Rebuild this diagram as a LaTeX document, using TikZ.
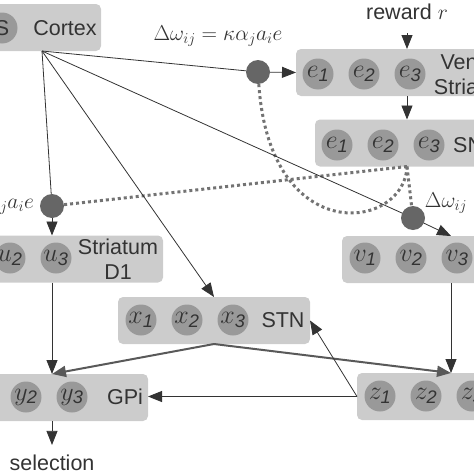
\RequirePackage{fix-cm}
\documentclass[tikz,border=0pt]{standalone}
\usepackage{fontspec}
\setmainfont{Liberation Sans}
\usetikzlibrary{arrows.meta,calc,positioning}
\definecolor{regiongray}{gray}{0.8}
\definecolor{unitgray}{gray}{0.6}
\definecolor{modgray}{gray}{0.4}
\definecolor{inkgray}{gray}{0.2}
\newdimen\hdim
\newdimen\udim
\hdim=47pt
\udim=31pt
\tikzstyle{region}=[
  fill=regiongray,
  inner sep=0pt,
  minimum height=\hdim,
  outer sep=0pt,
  rectangle,
  rounded corners=5pt,
]
\tikzstyle{unit}=[
  circle,
  fill=unitgray,
  font={\fontsize{26}{26}\selectfont},
  inner sep=0pt,
  minimum size=\udim,
  text=inkgray,
]
\tikzstyle{modulator}=[
  circle,
  fill=modgray,
  inner sep=0pt,
  minimum size=24pt,
]
\tikzstyle{caption}=[
  align=center,
  font={\fontsize{21.5}{25}\selectfont},
  inner sep=0pt,
  text=inkgray,
]
\tikzstyle{arrow}=[
  draw=inkgray,
  line width=0.8pt,
]
\tikzstyle{output}=[
  draw=black!65,
  line width=2pt,
]
\tikzstyle{trace}=[
  dash pattern=on 3pt off 3pt,
  draw=black!55,
  line width=3pt,
]
\tikzset{
  x=1pt, y=-1pt,
  node distance=46pt,
  >={Triangle[length=14pt,width=11pt]},
}
\begin{document}
\begin{tikzpicture}
    \useasboundingbox (0,0) rectangle (474,474);
    % regions
    \node (cortex) [region, minimum width=161pt] at (20.5,27.5) {};
    \node (vs) [region, minimum width=244pt] at (418,72.5) {};
    \node (sn) [region, minimum width=245pt] at (437.5,143) {};
    \node (d1) [region, minimum width=223pt] at (51.5,259) {};
    \node (v) [region, minimum width=218pt] at (451,259.5) {};
    \node (stn) [region, minimum width=192pt] at (214,320.5) {};
    \node (gpi) [region, minimum width=208pt] at (44,397.5) {};
    \node (z) [region, minimum width=203pt] at (458.5,396.5) {};
    % units
    \node (s) [unit, font={\fontsize{21.5}{25}\selectfont}] at (2,28) {S};
    \node (e1) [unit] at (318,74) {$e_{\mathit{1}}$};
    \node (e2) [unit, right of=e1] {$e_{\mathit{2}}$};
    \node (e3) [unit, right of=e2] {$e_{\mathit{3}}$};
    \node (sn1) [unit] at (337,145) {$e_{\mathit{1}}$};
    \node (sn2) [unit, right of=sn1] {$e_{\mathit{2}}$};
    \node (sn3) [unit, right of=sn2] {$e_{\mathit{3}}$};
    \node (u3) [unit] at (56,258) {$u_{\mathit{3}}$};
    \node (u2) [unit, left of=u3] {$u_{\mathit{2}}$};
    \node (v1) [unit] at (365,258) {$v_{\mathit{1}}$};
    \node (v2) [unit, right of=v1] {$v_{\mathit{2}}$};
    \node (v3) [unit, right of=v2] {$v_{\mathit{3}}$};
    \node (x1) [unit] at (141,320) {$x_{\mathit{1}}$};
    \node (x2) [unit, right of=x1] {$x_{\mathit{2}}$};
    \node (x3) [unit, right of=x2] {$x_{\mathit{3}}$};
    \node (y3) [unit] at (72,397) {$y_{\mathit{3}}$};
    \node (y2) [unit, left of=y3] {$y_{\mathit{2}}$};
    \node (z1) [unit] at (380,396) {$z_{\mathit{1}}$};
    \node (z2) [unit, right of=z1] {$z_{\mathit{2}}$};
    \node (z3) [unit, right of=z2] {$z_{\mathit{3}}$};
    % labels
    \node (cortexlabel) [caption] at (65,28) {Cortex};
    \node (vslabel) [caption] at (474,74) {Ventral\\Striatum};
    \node (snlabel) [caption, anchor=west] at (453,145) {SN};
    \node (d1label) [caption] at (118,259) {Striatum\\D1};
    \node (stnlabel) [caption] at (283,320) {STN};
    \node (gpilabel) [caption] at (125,397) {GPi};
    \node (reward) [caption] at (407,12) {reward $r$};
    \node (selection) [caption] at (52,463) {selection};
    \node (ruletop) [caption] at (218,36) {$\Delta\omega_{ij}=\kappa\alpha_j a_i e$};
    \node (ruleleft) [caption, anchor=east] at (34,204) {$\Delta\omega_{ij}=\kappa\alpha_j a_i e$};
    \node (ruleright) [caption] at (446,203) {$\Delta\omega_{ij}$};
    % plasticity
    \node (modtop) [modulator] at (258,72) {};
    \node (modleft) [modulator] at (52,206) {};
    \node (modright) [modulator] at (413,218) {};
    \coordinate (cortexout) at (42,51);
    \coordinate (snout) at (reward |- sn.south);
    \draw [trace] (snout) -- (modleft);
    \draw [trace] (snout) -- (modright);
    \draw [trace] (modtop) .. controls (270,250) and (405,230) .. (snout);
    % connections
    \draw [arrow] (cortexout) -- (modtop);
    \draw [->, arrow] (modtop) -- (vs.west);
    \draw [arrow] (cortexout) -- (modleft);
    \draw [->, arrow] (modleft) -- (modleft |- d1.north);
    \draw [->, arrow] (cortexout) -- (stn.north);
    \draw [arrow] (cortexout) -- (modright);
    \draw [->, arrow] (modright) -- (v.north);
    \draw [->, arrow, shorten <=13pt] (reward) -- (reward |- vs.north);
    \draw [->, arrow] (reward |- vs.south) -- (reward |- sn.north);
    \draw [->, arrow] (modleft |- d1.south) -- (modleft |- gpi.north);
    \draw [->, arrow] (v.south) -- (v.south |- z.north);
    \draw [->, output] (stn.south) -- (modleft |- gpi.north);
    \draw [->, output] (stn.south) -- (v.south |- z.north);
    \draw [->, arrow] (z.west) -- (z.west -| gpi.east);
    \draw [->, arrow] (z.west) -- (stn.east);
    \draw [->, arrow, shorten >=10pt] (modleft |- gpi.south) -- (selection.north);
  \end{tikzpicture}
\end{document}
